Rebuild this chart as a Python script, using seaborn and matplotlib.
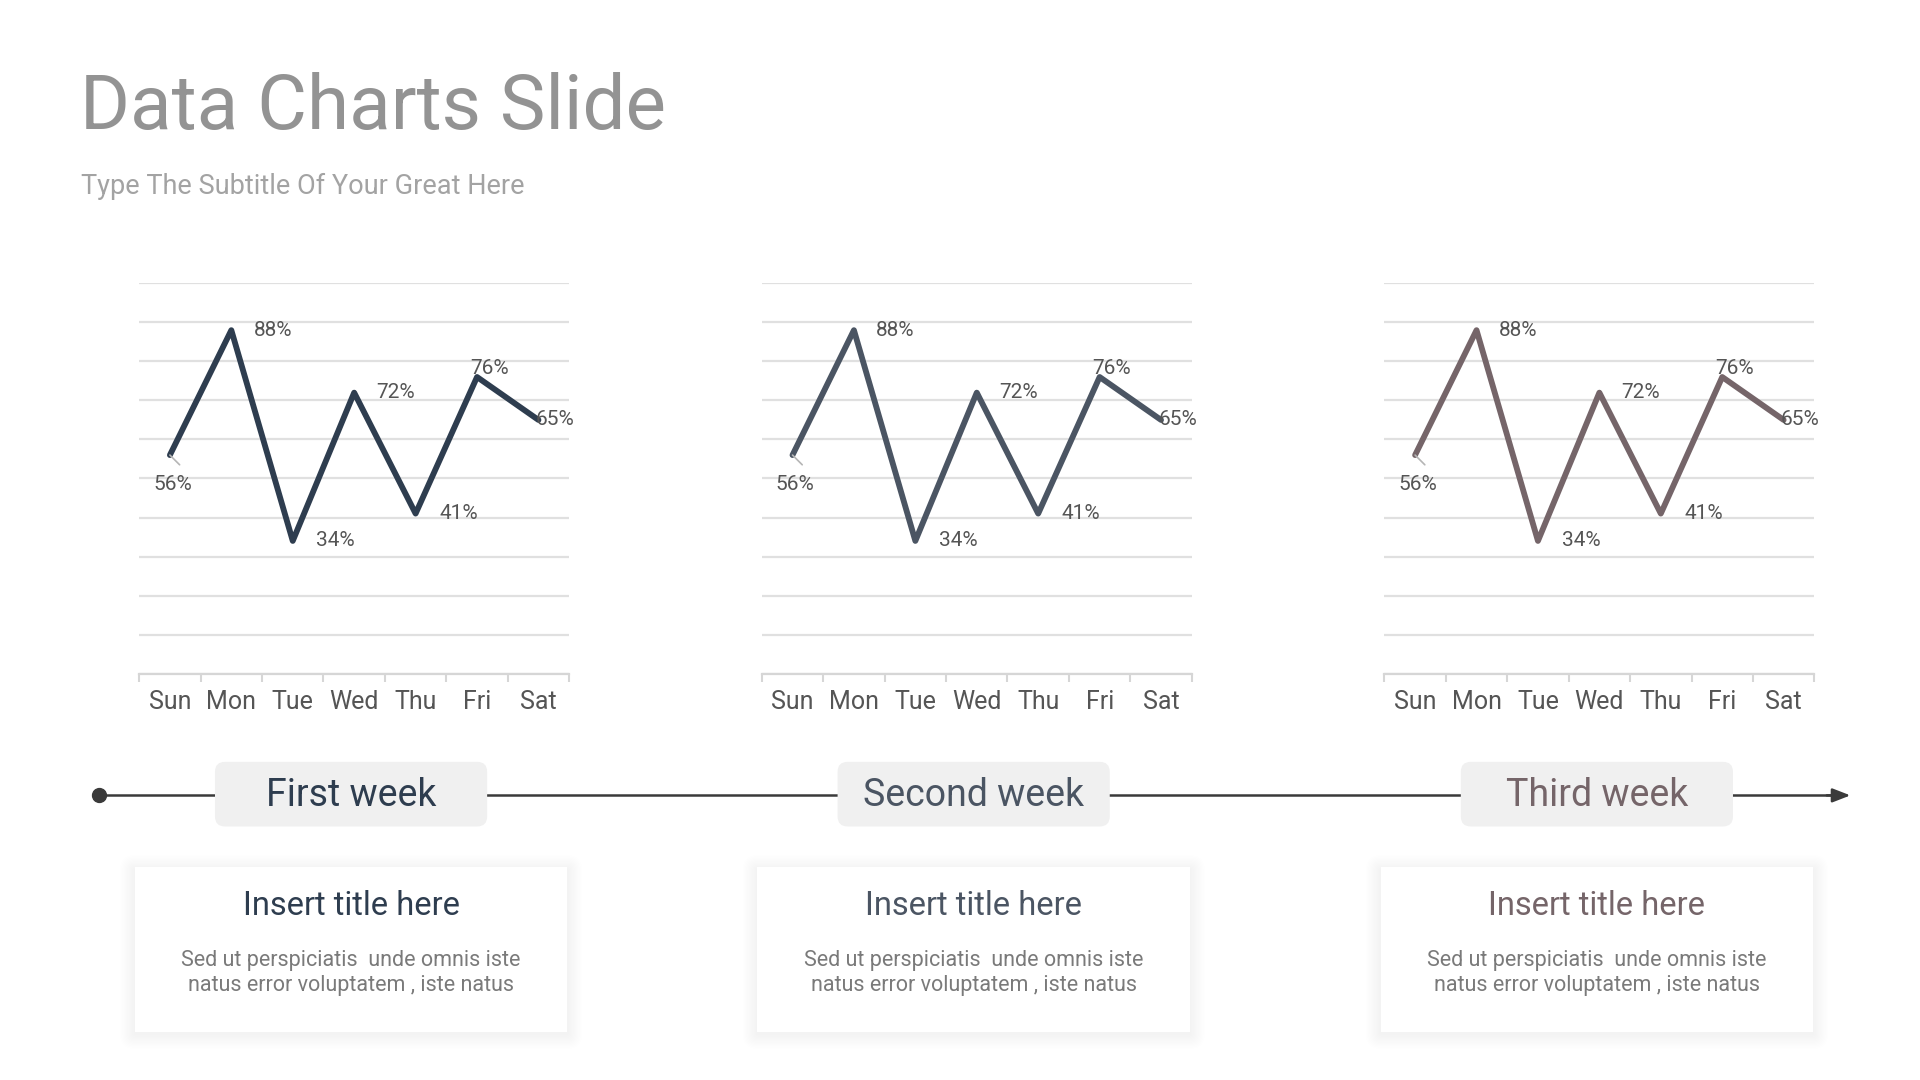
import numpy as np
import pandas as pd
import matplotlib
matplotlib.use("Agg")
import matplotlib.pyplot as plt
import seaborn as sns
from matplotlib.patches import FancyBboxPatch, Rectangle

# data
days = ["Sun", "Mon", "Tue", "Wed", "Thu", "Fri", "Sat"]
week_names = ["First week", "Second week", "Third week"]
week1 = [56, 88, 34, 72, 41, 76, 65]
week2 = [56, 88, 34, 72, 41, 76, 65]
week3 = [56, 88, 34, 72, 41, 76, 65]
card_title = "Insert title here"
card_body = "Sed ut perspiciatis  unde omnis iste\nnatus error voluptatem , iste natus"

colors = ["#2e3d4f", "#4b5563", "#756569"]

# label offsets (points) for each value label
lab_off = [(2, -21), (16, 0), (17, 0), (16, 0), (17, 0), (-5, 6), (-2, 0)]
lab_ha = ["center", "left", "left", "left", "left", "left", "left"]

sns.set_theme(style="white")
plt.rcParams["font.family"] = ["Roboto", "DejaVu Sans"]

W, H = 1545, 869  # layout grid
fig = plt.figure(figsize=(19.2, 10.8), dpi=100)
fig.patch.set_facecolor("white")

# overlay for decorations, in layout pixels
bg = fig.add_axes([0, 0, 1, 1], zorder=0)
bg.set_xlim(0, W)
bg.set_ylim(H, 0)
bg.axis("off")

bg.text(64, 104, "Data Charts Slide", fontsize=55, color="#939393",
        ha="left", va="baseline")
bg.text(65, 156, "Type The Subtitle Of Your Great Here", fontsize=19.5,
        color="#a3a3a3", ha="left", va="baseline")

# charts
lefts = [112, 613, 1114]
for i, vals in enumerate([week1, week2, week3]):
    df = pd.DataFrame({"day": days, "value": vals})
    ax = fig.add_axes([lefts[i] / W, 1 - 542 / H, 346 / W, 314 / H], zorder=2)
    ax.patch.set_alpha(0)
    sns.lineplot(data=df, x="day", y="value", ax=ax, color=colors[i],
                 linewidth=4.2, sort=False)
    ax.set_xlim(-0.5, 6.5)
    ax.set_ylim(0, 100)
    ax.set_yticks(range(0, 101, 10))
    ax.set_yticklabels([])
    ax.yaxis.grid(True, color="#e0e0e0", linewidth=1.6)
    ax.xaxis.grid(False)
    ax.set_axisbelow(True)
    for s in ["left", "right", "top"]:
        ax.spines[s].set_visible(False)
    ax.spines["bottom"].set_color("#d6d6d6")
    ax.spines["bottom"].set_linewidth(1.6)
    ax.tick_params(axis="y", length=0)
    ax.set_xticks(range(len(days)))
    ax.set_xticklabels(days)
    ax.set_xticks(np.arange(-0.5, 7, 1), minor=True)
    ax.tick_params(axis="x", which="major", length=0, pad=12, labelsize=18,
                   labelcolor="#555555")
    ax.tick_params(axis="x", which="minor", length=6, width=1.5, color="#d6d6d6",
                   direction="out", bottom=True)
    ax.set_xlabel("")
    ax.set_ylabel("")
    for j, v in enumerate(vals):
        ax.annotate(f"{v}%", (j, v), xytext=lab_off[j], textcoords="offset points",
                    ha=lab_ha[j], va="center", fontsize=15, color="#555555",
                    zorder=5)
    ax.annotate("", (0, vals[0]), xytext=(7, -7), textcoords="offset points",
                arrowprops=dict(arrowstyle="-", color="#b5b5b5", lw=1.2,
                                shrinkA=0, shrinkB=0))

# timeline
bg.plot([80, 1478], [640, 640], color="#3a3a3a", lw=1.8, zorder=1)
bg.plot([80], [640], "o", color="#3a3a3a", markersize=10, zorder=2)
bg.annotate("", xy=(1489, 640), xytext=(1470, 640),
            arrowprops=dict(arrowstyle="-|>,head_length=0.9,head_width=0.35",
                            color="#3a3a3a", lw=1.8, shrinkA=0, shrinkB=0))

centers = [282.5, 783.5, 1285]
for i, c in enumerate(centers):
    pill = FancyBboxPatch((c - 109.5, 613), 219, 52,
                          boxstyle="round,pad=0,rounding_size=8",
                          facecolor="#f0f0f0", edgecolor="none", zorder=3)
    bg.add_patch(pill)
    bg.text(c, 640, week_names[i], fontsize=27, color=colors[i],
            ha="center", va="center", zorder=4)

    # card with soft shadow
    x0, y0, w, h = c - 174, 698, 348, 132
    for k in range(12, 0, -1):
        bg.add_patch(FancyBboxPatch((x0 - k, y0 - k + 2), w + 2 * k, h + 2 * k,
                                    boxstyle="round,pad=0,rounding_size=%d" % k,
                                    facecolor="black", edgecolor="none",
                                    alpha=0.004, zorder=3))
    bg.add_patch(Rectangle((x0, y0), w, h, facecolor="white",
                           edgecolor="none", zorder=4))
    bg.text(c, 729, card_title, fontsize=23.5, color=colors[i],
            ha="center", va="center", zorder=5)
    bg.text(c, 783, card_body, fontsize=15.5, color="#7a7a7a",
            ha="center", va="center", linespacing=1.25, zorder=5)

fig.savefig("out.png", dpi=100, facecolor="white")
